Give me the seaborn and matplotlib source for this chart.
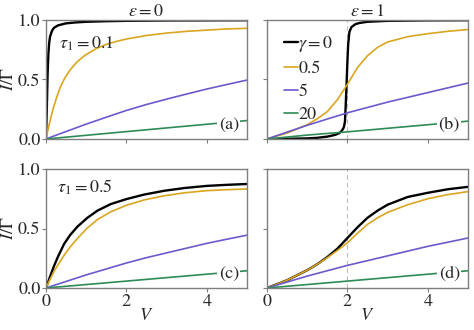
import numpy as np
import pandas as pd
import matplotlib
matplotlib.use("Agg")
import matplotlib.pyplot as plt
import seaborn as sns

sns.set_style("white")
plt.rcParams['font.family'] = ['STIXGeneral', 'DejaVu Serif']
plt.rcParams['mathtext.fontset'] = 'stix'

gammas = ["0", "0.5", "5", "20"]
colors = ["#000000", "#DAA520", "#6A5ACD", "#2E8B57"]
widths = [1.7, 1.2, 1.2, 1.2]

# ---- panel (a): eps=0, tau1=0.1
a_black_V = [0, 0.02, 0.04, 0.06, 0.08, 0.1, 0.15, 0.2, 0.3, 0.5, 0.75, 1.0, 1.5, 2, 3, 4, 5]
a_black_I = [0, 0.25, 0.55, 0.72, 0.81, 0.86, 0.91, 0.935, 0.955, 0.972, 0.98, 0.985, 0.99, 0.993, 0.996, 0.997, 0.998]
a_gold_V = [0, 0.05, 0.1, 0.15, 0.2, 0.275, 0.35, 0.425, 0.5, 0.6, 0.75, 0.9, 1, 1.25, 1.5, 1.75, 2, 2.5, 3, 3.5, 4, 4.5, 5]
a_gold_I = [0, 0.08, 0.15, 0.22, 0.28, 0.36, 0.43, 0.485, 0.53, 0.58, 0.64, 0.685, 0.71, 0.76, 0.795, 0.82, 0.84, 0.87, 0.89, 0.905, 0.915, 0.925, 0.93]
a_purp_V = [0, 0.5, 1, 1.5, 2, 2.5, 3, 3.5, 4, 4.5, 5]
a_purp_I = [0, 0.063, 0.125, 0.183, 0.24, 0.29, 0.335, 0.378, 0.42, 0.458, 0.495]
a_green_V = [0, 1, 2, 3, 4, 5]
a_green_I = [0, 0.031, 0.062, 0.093, 0.124, 0.155]

# ---- panel (b): eps=1, tau1=0.1
b_black_V = [0, 0.5, 1, 1.25, 1.5, 1.7, 1.8, 1.85, 1.9, 1.92, 1.94, 1.96, 1.98, 2.0, 2.02, 2.05, 2.1, 2.2, 2.3, 2.5, 3, 4, 5]
b_black_I = [0, 0.002, 0.005, 0.01, 0.02, 0.035, 0.05, 0.065, 0.09, 0.11, 0.15, 0.3, 0.47, 0.65, 0.8, 0.9, 0.94, 0.965, 0.975, 0.985, 0.993, 0.997, 0.998]
b_gold_V = [0, 0.5, 1, 1.25, 1.5, 1.75, 2, 2.25, 2.5, 2.75, 3, 3.5, 4, 4.5, 5]
b_gold_I = [0, 0.05, 0.12, 0.17, 0.23, 0.33, 0.46, 0.6, 0.7, 0.77, 0.815, 0.86, 0.885, 0.905, 0.92]
b_purp_V = [0, 0.5, 1, 1.5, 2, 2.5, 3, 3.5, 4, 4.5, 5]
b_purp_I = [0, 0.058, 0.115, 0.168, 0.22, 0.265, 0.31, 0.35, 0.39, 0.43, 0.47]
b_green_V = [0, 1, 2, 3, 4, 5]
b_green_I = [0, 0.033, 0.06, 0.09, 0.12, 0.15]

# ---- panel (c): eps=0, tau1=0.5
c_black_V = [0, 0.1, 0.2, 0.3, 0.45, 0.6, 0.78, 1.03, 1.28, 1.61, 2, 2.44, 2.94, 3.44, 4, 4.5, 5]
c_black_I = [0, 0.095, 0.185, 0.265, 0.37, 0.445, 0.515, 0.59, 0.65, 0.705, 0.747, 0.785, 0.817, 0.84, 0.858, 0.867, 0.874]
c_gold_V = [0, 0.1, 0.2, 0.3, 0.45, 0.6, 0.78, 1.03, 1.28, 1.61, 2, 2.44, 2.94, 3.44, 4, 4.5, 5]
c_gold_I = [0, 0.072, 0.14, 0.195, 0.275, 0.345, 0.415, 0.505, 0.575, 0.64, 0.695, 0.74, 0.775, 0.80, 0.818, 0.826, 0.832]
c_purp_V = [0, 0.5, 1, 1.5, 2, 2.5, 3, 3.5, 4, 4.5, 5]
c_purp_I = [0, 0.055, 0.11, 0.16, 0.21, 0.255, 0.295, 0.335, 0.375, 0.41, 0.444]
c_green_V = [0, 1, 2, 3, 4, 5]
c_green_I = [0, 0.029, 0.058, 0.087, 0.116, 0.145]

# ---- panel (d): eps=1, tau1=0.5
d_black_V = [0, 0.5, 1, 1.25, 1.5, 1.75, 2, 2.25, 2.5, 2.75, 3, 3.5, 4, 4.5, 5]
d_black_I = [0, 0.065, 0.15, 0.2, 0.26, 0.33, 0.42, 0.51, 0.59, 0.65, 0.7, 0.765, 0.8, 0.83, 0.85]
d_gold_V = [0, 0.5, 1, 1.25, 1.5, 1.75, 2, 2.25, 2.5, 2.75, 3, 3.5, 4, 4.5, 5]
d_gold_I = [0, 0.065, 0.15, 0.2, 0.255, 0.315, 0.38, 0.46, 0.535, 0.59, 0.635, 0.7, 0.75, 0.785, 0.81]
d_purp_V = [0, 0.5, 1, 1.5, 2, 2.5, 3, 3.5, 4, 4.5, 5]
d_purp_I = [0, 0.05, 0.1, 0.145, 0.19, 0.23, 0.27, 0.31, 0.35, 0.385, 0.42]
d_green_V = [0, 1, 2, 3, 4, 5]
d_green_I = [0, 0.029, 0.058, 0.087, 0.116, 0.145]

panels = {
    "a": [(a_black_V, a_black_I), (a_gold_V, a_gold_I), (a_purp_V, a_purp_I), (a_green_V, a_green_I)],
    "b": [(b_black_V, b_black_I), (b_gold_V, b_gold_I), (b_purp_V, b_purp_I), (b_green_V, b_green_I)],
    "c": [(c_black_V, c_black_I), (c_gold_V, c_gold_I), (c_purp_V, c_purp_I), (c_green_V, c_green_I)],
    "d": [(d_black_V, d_black_I), (d_gold_V, d_gold_I), (d_purp_V, d_purp_I), (d_green_V, d_green_I)],
}

W, H = 474, 330
fig = plt.figure(figsize=(W / 100, H / 100), dpi=100)

def rect(x0, y0, x1, y1):
    return [x0 / W, 1 - y1 / H, (x1 - x0) / W, (y1 - y0) / H]

boxes = {
    "a": rect(46, 20, 247, 139),
    "b": rect(267, 20, 468, 139),
    "c": rect(46, 169, 247, 288),
    "d": rect(267, 169, 468, 288),
}

fs = 13
spine_col = "#7f7f7f"
axes = {}
for key, box in boxes.items():
    ax = fig.add_axes(box)
    axes[key] = ax
    for (Vs, Is), g, col, lw in zip(panels[key], gammas, colors, widths):
        df = pd.DataFrame({"V": Vs, "I": Is})
        lab = r"$\gamma=0$" if g == "0" else g
        sns.lineplot(data=df, x="V", y="I", color=col, lw=lw, ax=ax, label=lab,
                     legend=False, estimator=None, sort=False)
    ax.set_xlim(0, 5)
    ax.set_ylim(0, 1)
    ax.set_xticks([0, 2, 4])
    ax.set_yticks([0, 0.5, 1.0])
    for s in ax.spines.values():
        s.set_color(spine_col)
        s.set_linewidth(1.0)
    ax.tick_params(direction="out", length=3, width=0.8, color=spine_col,
                   labelsize=fs, pad=1.0, bottom=True, left=True)
    ax.set_xlabel("")
    ax.set_ylabel("")
    if key in ("a", "b"):
        ax.set_xticklabels([])
    else:
        ax.set_xlabel(r"$V$", fontsize=fs, labelpad=-1)
    if key in ("b", "d"):
        ax.set_yticklabels([])
        ax.axvline(2, color="#bbbbbb", lw=0.8, ls=(0, (4, 3)), zorder=0)
    else:
        ax.set_yticklabels(["0.0", "0.5", "1.0"])
        ax.set_ylabel(r"$I/\Gamma$", fontsize=fs, labelpad=1)
    ax.text(0.96, 0.05, f"({key})", transform=ax.transAxes, ha="right", va="bottom",
            fontsize=fs, bbox=dict(facecolor="white", edgecolor="none", pad=1.0), zorder=5)

axes["a"].set_title(r"$\varepsilon=0$", fontsize=fs, pad=1)
axes["b"].set_title(r"$\varepsilon=1$", fontsize=fs, pad=1)
axes["a"].text(0.33, 0.76, r"$\tau_1=0.1$", fontsize=fs)
axes["c"].text(0.28, 0.80, r"$\tau_1=0.5$", fontsize=fs)

leg = axes["b"].legend(loc="upper left", frameon=False, fontsize=fs, handlelength=0.8,
                       handletextpad=0.0, labelspacing=0.35, borderaxespad=0.2,
                       bbox_to_anchor=(0.03, 0.97))

fig.savefig("out.png", dpi=100)
